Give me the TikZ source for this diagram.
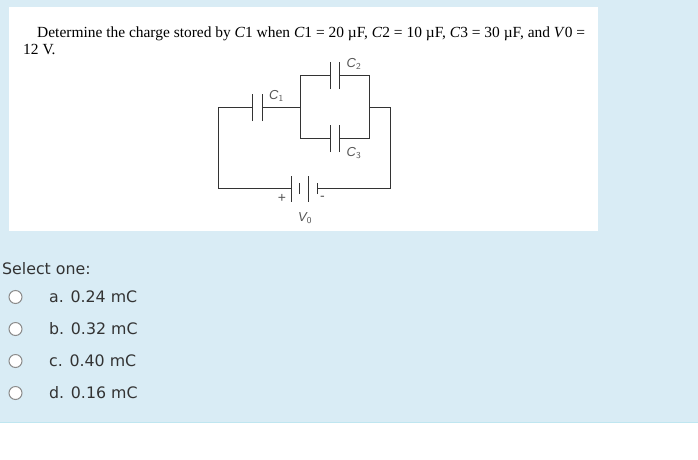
\documentclass[tikz,border=0pt]{standalone}
\usepackage{fontspec}
\setmainfont{Liberation Serif}
\newfontfamily\uifont{DejaVu Sans}
\newfontfamily\labfont{Liberation Sans}
\definecolor{panel}{HTML}{D9ECF5}
\definecolor{edgeline}{HTML}{BFE6F0}
\definecolor{wire}{HTML}{333333}
\definecolor{uitext}{HTML}{333333}
\definecolor{labgray}{HTML}{555555}
\tikzset{
  x=1pt,y=-1pt,
  wirel/.style={draw=wire,line width=1pt},
  plate/.style={draw=wire,line width=1pt},
  qtext/.style={anchor=base west,inner sep=0pt,font=\fontsize{15.45}{18}\selectfont,text=black},
  lab/.style={inner sep=0pt,text=labgray,font=\labfont\itshape\fontsize{13}{13}\selectfont},
  sign/.style={inner sep=0pt,text=labgray,font=\labfont\fontsize{14}{14}\selectfont},
  uit/.style={anchor=base west,inner sep=0pt,text=uitext,font=\uifont\fontsize{15.8}{18}\selectfont},
  radio/.style={circle,draw=black!45,fill=white,line width=1pt,minimum size=13pt,inner sep=0pt}
}
\begin{document}
\begin{tikzpicture}
\useasboundingbox (0,0) rectangle (698,459);
\fill[white] (0,0) rectangle (698,459);
\fill[panel] (0,0) rectangle (698,422);
\draw[edgeline,line width=.8pt] (0,422) -- (698,422);
\fill[white] (9,7) rectangle (598,231);
\node[qtext] (q1) at (37,37) {Determine the charge stored by \textit{C}1 when \textit{C}1 = 20 µF, \textit{C}2 = 10 µF, \textit{C}3 = 30 µF, and \textit{V}0 =};
\node[qtext] (q2) at (23,54) {12 V.};
% junctions
\coordinate (tl) at (218.5,107.5);
\coordinate (bl) at (218.5,188.5);
\coordinate (br) at (390.5,188.5);
\coordinate (tr) at (390.5,107.5);
\coordinate (jl) at (300.5,107.5);
\coordinate (jr) at (369.5,107.5);
\coordinate (c2l) at (300.5,75.5);
\coordinate (c2r) at (369.5,75.5);
\coordinate (c3l) at (300.5,138.5);
\coordinate (c3r) at (369.5,138.5);
% plates
\coordinate (c1a) at (252.5,107.5);
\coordinate (c1b) at (262.5,107.5);
\coordinate (c2a) at (330.5,75.5);
\coordinate (c2b) at (339.5,75.5);
\coordinate (c3a) at (330.5,138.5);
\coordinate (c3b) at (339.5,138.5);
\coordinate (b1) at (291.5,188.5);
\coordinate (b2) at (299.5,188.5);
\coordinate (b3) at (308.5,188.5);
\coordinate (b4) at (317.5,188.5);
\draw[wirel] (c1a) -- (tl) -- (bl) -- (b1);
\draw[wirel] (c1b) -- (jl);
\draw[wirel] (c2a) -- (c2l) -- (c3l) -- (c3a);
\draw[wirel] (c2b) -- (c2r) -- (c3r) -- (c3b);
\draw[wirel] (jr) -- (tr) -- (br) -- (b4);
\foreach \p in {c1a,c1b}{\draw[plate] ([yshift=-13.5pt]\p) -- ([yshift=13.5pt]\p);}
\foreach \p in {c2a,c2b,c3a,c3b}{\draw[plate] ([yshift=-13.5pt]\p) -- ([yshift=13.5pt]\p);}
\foreach \p in {b1,b3}{\draw[plate] ([yshift=-13pt]\p) -- ([yshift=13pt]\p);}
\foreach \p in {b2,b4}{\draw[plate] ([yshift=-5.5pt]\p) -- ([yshift=5.5pt]\p);}
\node[lab] (l1) at (276.5,96) {C$_{\mathsf 1}$};
\node[lab] (l2) at (354,64) {C$_{\mathsf 2}$};
\node[lab] (l3) at (354,153) {C$_{\mathsf 3}$};
\node[lab] (l0) at (305,218) {V$_{\mathsf 0}$};
\node[sign] (pl) at (282,198) {+};
\node[sign] (mi) at (322.5,198) {-};
\node[uit] (sel) at (2,274.5) {Select one:};
\foreach \n/\y/\t in {a/297/a. 0.24 mC,b/329/b. 0.32 mC,c/361/c. 0.40 mC,d/393/d. 0.16 mC}{
  \node[radio] (r\n) at (15.5,\y) {};
  \node[uit] (o\n) at (49,\y+5) {\t};
}
\end{tikzpicture}
\end{document}
